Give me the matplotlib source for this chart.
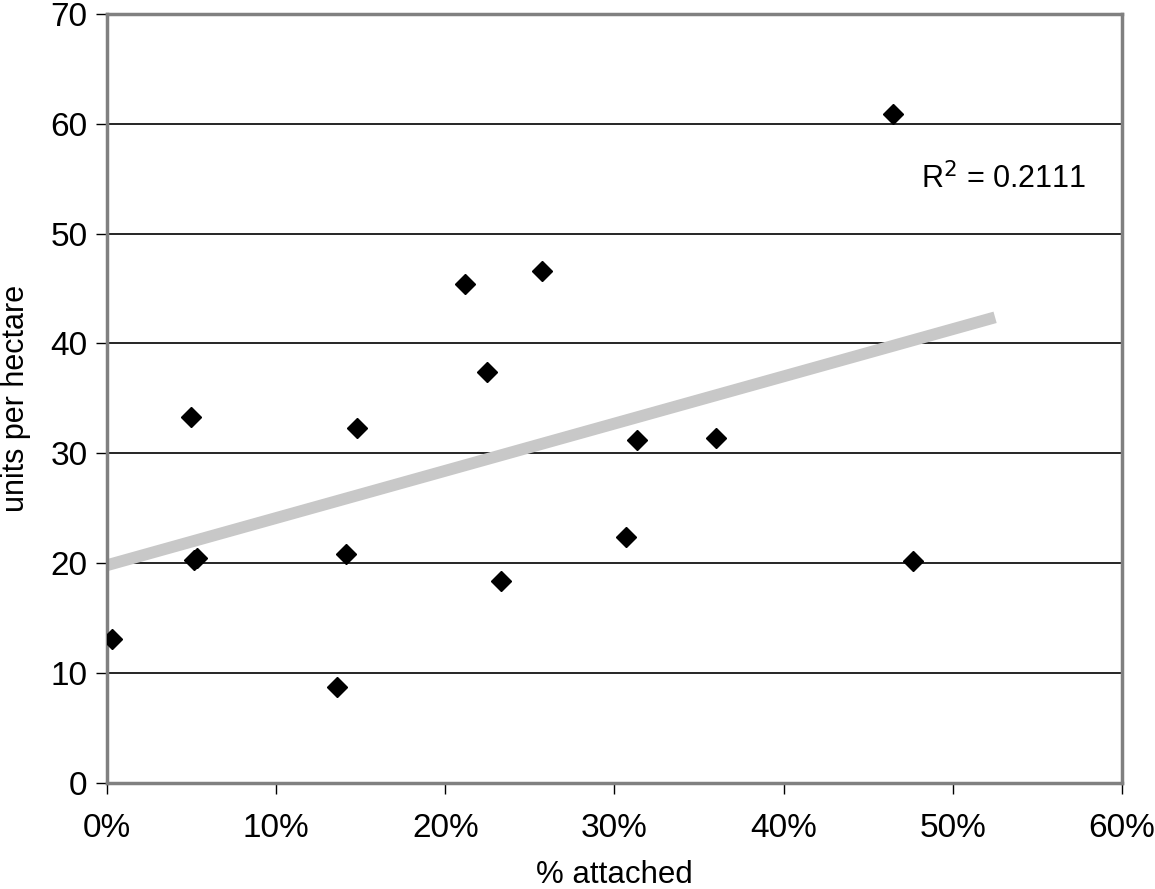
import numpy as np
import matplotlib
matplotlib.use("Agg")
import matplotlib.pyplot as plt
from matplotlib.ticker import PercentFormatter, MultipleLocator

plt.rcParams['font.family'] = ['Liberation Sans', 'DejaVu Sans']

# share of attached units vs density
pct_attached = [0.003, 0.0497, 0.0512, 0.0535, 0.1358, 0.1413, 0.1478, 0.2119,
                0.2247, 0.2332, 0.2574, 0.3071, 0.3132, 0.3603, 0.4648, 0.4762]
units_per_ha = [13.1, 33.3, 20.3, 20.5, 8.7, 20.8, 32.3, 45.4,
                37.4, 18.4, 46.6, 22.4, 31.2, 31.4, 60.85, 20.2]
# excel linear trendline
trend_intercept = 19.8
trend_slope = 43.0
trend_end = 0.525
r2_label = "R$^2$ = 0.2111"

fig = plt.figure(figsize=(11.55, 8.89), dpi=100)
ax = fig.add_axes([0.0926, 0.1196, 0.8788, 0.8647])

xt = np.array([0.0, trend_end])
ax.plot(xt, trend_intercept + trend_slope * xt, color='#c8c8c8', lw=8.5,
        solid_capstyle='butt', zorder=2)

ax.plot(pct_attached, units_per_ha, 'D', color='black', markersize=10.5, zorder=3)

ax.text(0.53, 55.0, r2_label, fontsize=22, ha='center', va='center')

ax.set_xlim(0, 0.6)
ax.set_ylim(0, 70)
ax.xaxis.set_major_locator(MultipleLocator(0.1))
ax.yaxis.set_major_locator(MultipleLocator(10))
ax.xaxis.set_major_formatter(PercentFormatter(xmax=1, decimals=0))
ax.yaxis.grid(True, color='black', lw=1.2)
ax.set_axisbelow(True)

for s in ax.spines.values():
    s.set_color('#808080')
    s.set_linewidth(2.5)

ax.tick_params(axis='both', direction='out', length=8, width=1, color='black',
               labelsize=24, pad=6)
ax.tick_params(axis='x', pad=14)

ax.set_xlabel('% attached', fontsize=22.5, labelpad=11)
ax.set_ylabel('units per hectare', fontsize=22, labelpad=14)

fig.savefig('out.png', dpi=100)
